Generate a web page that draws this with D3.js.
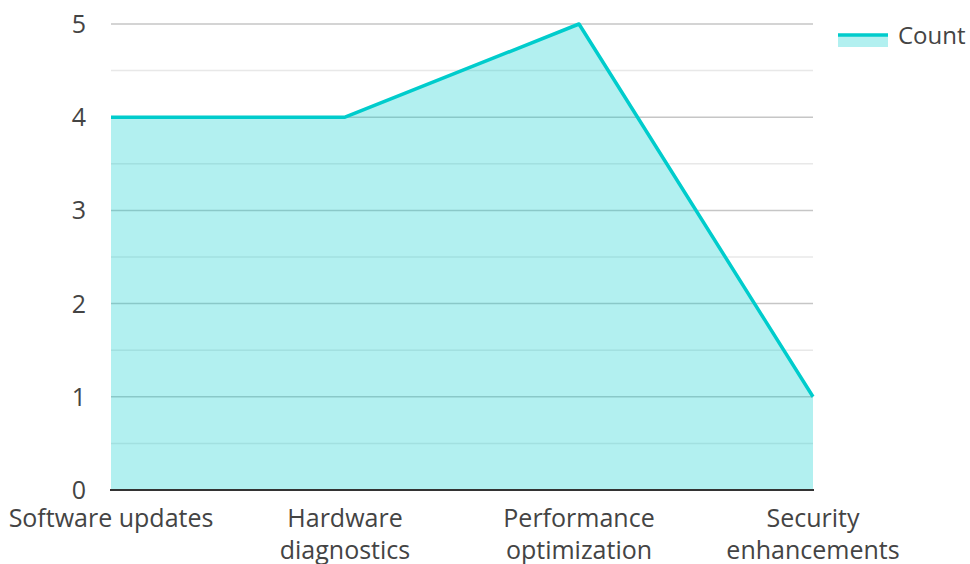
<!DOCTYPE html>
<html>
<head>
<meta charset="utf-8">
<script src="https://cdn.jsdelivr.net/npm/d3@7"></script>
<style>
  body { margin: 0; background: #fff; }
  text { font-family: "Open Sans", "Noto Sans", sans-serif; fill: #444; }
</style>
</head>
<body>
<svg id="chart" width="970" height="564"></svg>
<script>
// data
var categories = [["Software updates"], ["Hardware", "diagnostics"], ["Performance", "optimization"], ["Security", "enhancements"]];
var counts = [4, 4, 5, 1];
var yTicks = [0, 1, 2, 3, 4, 5];
var yMinor = [0.5, 1.5, 2.5, 3.5, 4.5];

var svg = d3.select("#chart");
var pLeft = 111, pRight = 813, pTop = 24, pBottom = 490;

var x = d3.scalePoint().domain(d3.range(categories.length)).range([pLeft, pRight]);
var y = d3.scaleLinear().domain([0, 5]).range([pBottom, pTop]);

// grid
svg.append("g").selectAll("line.minor").data(yMinor).enter().append("line")
   .attr("x1", pLeft).attr("x2", pRight)
   .attr("y1", d => y(d)).attr("y2", d => y(d))
   .attr("stroke", "#e8e8e8").attr("stroke-width", 1.5);
svg.append("g").selectAll("line.major").data(yTicks.slice(1)).enter().append("line")
   .attr("x1", pLeft).attr("x2", pRight)
   .attr("y1", d => y(d)).attr("y2", d => y(d))
   .attr("stroke", "#c6c6c6").attr("stroke-width", 1.5);

// area + line
var pts = counts.map((v, i) => [i, v]);
svg.append("path").datum(pts)
   .attr("d", d3.area().x(d => x(d[0])).y0(y(0)).y1(d => y(d[1])))
   .attr("fill", "rgba(0,204,204,0.3)");
svg.append("path").datum(pts)
   .attr("d", d3.line().x(d => x(d[0])).y(d => y(d[1])))
   .attr("fill", "none").attr("stroke", "#00cccc").attr("stroke-width", 3.5)
   .attr("stroke-linejoin", "round");

// x axis line
svg.append("line").attr("x1", pLeft - 1).attr("x2", pRight + 1)
   .attr("y1", pBottom).attr("y2", pBottom)
   .attr("stroke", "#333").attr("stroke-width", 2);

// y labels
svg.append("g").selectAll("text").data(yTicks).enter().append("text")
   .attr("x", 86).attr("y", d => y(d) + 9)
   .attr("text-anchor", "end").style("font-size", "25px")
   .text(d => d);

// x labels
var xl = svg.append("g").selectAll("text").data(categories).enter().append("text")
   .attr("text-anchor", "middle").style("font-size", "25px")
   .attr("transform", (d, i) => "translate(" + x(i) + "," + 527 + ")");
xl.selectAll("tspan").data(d => d).enter().append("tspan")
   .attr("x", 0).attr("dy", (d, j) => j ? 32 : 0)
   .text(d => d);

// legend
var lg = svg.append("g").attr("transform", "translate(838,35)");
lg.append("rect").attr("x", 0).attr("y", 0).attr("width", 50).attr("height", 12)
   .attr("fill", "rgba(0,204,204,0.3)");
lg.append("line").attr("x1", 0).attr("x2", 50).attr("y1", 0).attr("y2", 0)
   .attr("stroke", "#00cccc").attr("stroke-width", 3.5);
lg.append("text").attr("x", 60).attr("y", 9).style("font-size", "24px").text("Count");
</script>
</body>
</html>
